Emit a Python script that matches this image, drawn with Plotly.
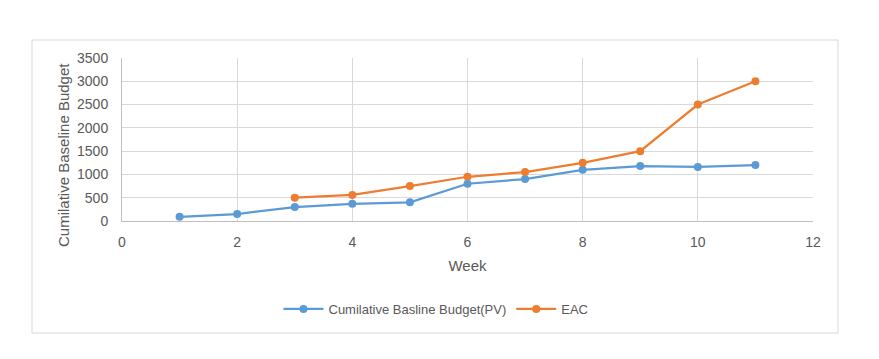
import plotly.graph_objects as go

weeks_pv = [1, 2, 3, 4, 5, 6, 7, 8, 9, 10, 11]
pv_values = [90, 150, 300, 370, 400, 800, 900, 1100, 1180, 1160, 1200]
weeks_eac = [3, 4, 5, 6, 7, 8, 9, 10, 11]
eac_values = [500, 560, 750, 950, 1050, 1250, 1500, 2500, 3000]
x_ticks = [0, 2, 4, 6, 8, 10, 12]
y_ticks = [0, 500, 1000, 1500, 2000, 2500, 3000, 3500]

OFF = 8  # browser default body margin
W, H = 879 - OFF, 359 - OFF
# target plot area in page pixels
L, R, T, B = 122, 813, 58, 221
pw, ph = R - L, B - T

def px(x):
    return (x - L) / pw

def py(y):
    return (B - y) / ph

font_family = "Liberation Sans, Arial, sans-serif"
txt = "#595959"

fig = go.Figure()
fig.add_trace(go.Scatter(
    x=weeks_pv, y=pv_values, mode="lines+markers",
    name="Cumilative Basline Budget(PV)",
    line=dict(color="#5B9BD5", width=2.25),
    marker=dict(color="#5B9BD5", size=8),
))
fig.add_trace(go.Scatter(
    x=weeks_eac, y=eac_values, mode="lines+markers",
    name="EAC",
    line=dict(color="#ED7D31", width=2.25),
    marker=dict(color="#ED7D31", size=8),
))

fig.update_layout(
    width=W, height=H,
    margin=dict(l=L - OFF, r=W - (R - OFF), t=T - OFF, b=H - (B - OFF), pad=0),
    paper_bgcolor="white", plot_bgcolor="white",
    font=dict(family=font_family, size=13, color=txt),
    showlegend=True,
    legend=dict(orientation="h", x=px(436), xanchor="center",
                y=py(309), yanchor="middle",
                font=dict(size=13, color=txt), itemwidth=40,
                bgcolor="rgba(0,0,0,0)"),
    xaxis=dict(range=[0, 12], tickvals=x_ticks, showgrid=True,
               gridcolor="#D9D9D9", gridwidth=1, zeroline=False,
               showline=True, linecolor="#BFBFBF", linewidth=1,
               ticks="", ticklabelstandoff=8, tickfont=dict(size=14, color=txt),
               title=dict(text="Week", font=dict(size=15, color=txt), standoff=11)),
    yaxis=dict(range=[0, 3500], tickvals=y_ticks, showgrid=True,
               gridcolor="#D9D9D9", gridwidth=1, zeroline=False,
               showline=True, linecolor="#BFBFBF", linewidth=1,
               ticks="", ticklabelstandoff=10, tickfont=dict(size=14, color=txt)),
    annotations=[dict(text="Cumilative Baseline Budget", xref="paper", yref="paper",
                      x=px(63), y=py(155), xanchor="center", yanchor="middle",
                      textangle=-90, showarrow=False,
                      font=dict(size=15, color=txt))],
    shapes=[dict(type="rect", xref="paper", yref="paper",
                 x0=px(32), x1=px(838), y0=py(333), y1=py(40),
                 line=dict(color="#D9D9D9", width=1), layer="below")],
)

fig.write_html("out.html")
